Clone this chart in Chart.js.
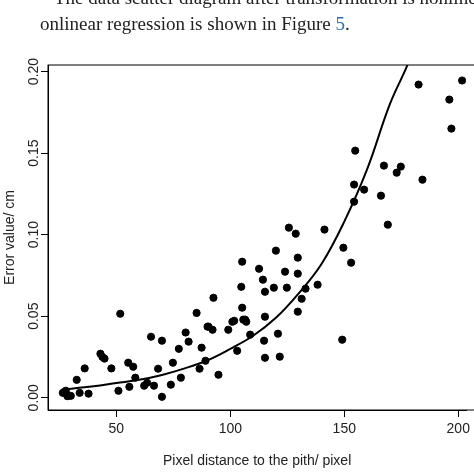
<!DOCTYPE html>
<html>
<head>
<meta charset="utf-8">
<script src="https://cdn.jsdelivr.net/npm/chart.js@4"></script>
<style>
  html, body { margin: 0; padding: 0; background: #fff; overflow: hidden; }
  #wrap { position: relative; width: 474px; height: 474px; }
  .caption { position: absolute; left: 0; white-space: nowrap; font-family: "Liberation Serif", "DejaVu Serif", serif; font-size: 19px; color: #222; }
</style>
</head>
<body>
<div id="wrap">
  <canvas id="chart" width="474" height="474"></canvas>
  <div class="caption" style="top:-13px; left:54px;">The data scatter diagram after transformation is nonlinear</div>
  <div class="caption" style="top:13px; left:40px;">onlinear regression is shown in Figure <span style="color:#2a6fb5">5</span>.</div>
</div>
<script>
// Observed points (pixel distance, error value)
const pointX = [26.5, 27.8, 28.5, 30, 32.6, 33.9, 36.1, 37.8, 43, 43.9, 44.8, 47.8, 50.9, 51.7, 55.2, 55.7, 57.4, 58.3,
  62.2, 63.5, 65.2, 66.5, 68.3, 70, 70, 73.9, 74.8, 77.4, 78.3, 80.4, 81.7, 85.2, 86.5, 87.4, 89.1, 90, 90.4, 92.2,
  92.6, 94.8, 99.1, 100.9, 101.7, 103, 104.8, 105.2, 105.2, 105.7, 106.5, 107, 108.7, 112.6, 114.3, 114.8, 115.2,
  115.2, 115.2, 119.1, 120, 120.9, 121.7, 124, 124.8, 125.7, 128.7, 129.6, 129.6, 129.6, 131.3, 133, 138.3, 141.3,
  149.1, 149.6, 153, 154.3, 154.8, 154.3, 158.7, 166.1, 167.4, 169.1, 173, 174.8, 182.6, 184.3, 196.1, 197, 201.7];
const pointY = [0.003, 0.0043, 0.001, 0.0012, 0.011, 0.003, 0.018, 0.0025, 0.027, 0.025, 0.024, 0.018, 0.0043, 0.0515,
  0.0215, 0.0067, 0.019, 0.0123, 0.0074, 0.0092, 0.0374, 0.0074, 0.0178, 0.035, 0.0006, 0.008, 0.0215, 0.030, 0.0123,
  0.040, 0.0344, 0.052, 0.0178, 0.0307, 0.0227, 0.0436, 0.0436, 0.0417, 0.0613, 0.0141, 0.0417, 0.0466, 0.0472,
  0.0288, 0.068, 0.0834, 0.0552, 0.0479, 0.0479, 0.0466, 0.0387, 0.0791, 0.0724, 0.035, 0.065, 0.0497, 0.0245,
  0.0675, 0.0902, 0.0393, 0.0252, 0.0773, 0.0675, 0.1043, 0.1006, 0.0859, 0.0761, 0.0528, 0.0607, 0.0669, 0.0693,
  0.1031, 0.0356, 0.092, 0.0828, 0.1307, 0.1515, 0.1202, 0.1276, 0.1239, 0.1423, 0.1061, 0.138, 0.1417, 0.192,
  0.1337, 0.1828, 0.165, 0.1945];

// Fitted regression curve
const curveX = [26, 40, 50, 60, 70, 80, 90, 100, 110, 120, 130, 140, 150, 160, 170, 178, 182];
const curveY = [0.005, 0.007, 0.009, 0.011, 0.014, 0.018, 0.023, 0.030, 0.038, 0.049, 0.064, 0.082, 0.108, 0.140, 0.180, 0.205, 0.222];

const xTicks = [50, 100, 150, 200];
const yTicks = [0, 0.05, 0.10, 0.15, 0.20];

const points = pointX.map((x, i) => ({ x: x, y: pointY[i] }));
const curve = curveX.map((x, i) => ({ x: x, y: curveY[i] }));

// R-style frame and rotated y tick labels
const rStyle = {
    id: 'rStyle',
    afterDraw(chart) {
        const { ctx, chartArea: a, scales } = chart;
        ctx.save();
        ctx.strokeStyle = '#000';
        ctx.lineWidth = 1;
        ctx.strokeRect(a.left, a.top, a.right - a.left + 10, a.bottom - a.top);
        ctx.fillStyle = '#222';
        ctx.font = '14px "Liberation Sans", Arial, sans-serif';
        ctx.textAlign = 'center';
        ctx.textBaseline = 'middle';
        yTicks.forEach(v => {
            const y = scales.y.getPixelForValue(v);
            ctx.save();
            ctx.translate(34, y);
            ctx.rotate(-Math.PI / 2);
            ctx.fillText(v.toFixed(2), 0, 0);
            ctx.restore();
        });
        ctx.save();
        ctx.translate(10, (a.top + a.bottom) / 2);
        ctx.rotate(-Math.PI / 2);
        ctx.fillText('Error value/ cm', 0, 0);
        ctx.restore();
        ctx.restore();
    }
};

new Chart(document.getElementById('chart'), {
    type: 'scatter',
    data: {
        datasets: [{
            data: points,
            backgroundColor: '#000',
            borderColor: '#000',
            pointRadius: 3.6,
            pointHoverRadius: 3.6
        }, {
            type: 'line',
            data: curve,
            borderColor: '#000',
            borderWidth: 2,
            pointRadius: 0,
            tension: 0.4,
            fill: false
        }]
    },
    options: {
        responsive: false,
        animation: false,
        layout: { padding: { top: 65, right: 0, left: 0, bottom: 0 } },
        plugins: { legend: { display: false }, tooltip: { enabled: false } },
        scales: {
            x: {
                type: 'linear',
                min: 20,
                max: 203.5,
                afterBuildTicks: s => { s.ticks = xTicks.map(v => ({ value: v })); },
                afterFit: s => { s.height = 64; },
                grid: { drawOnChartArea: false, tickLength: 7, color: '#000' },
                border: { color: '#000' },
                ticks: { color: '#222', font: { size: 14, family: '"Liberation Sans", Arial, sans-serif' }, padding: 4 },
                title: { display: true, text: 'Pixel distance to the pith/ pixel', color: '#222', font: { size: 14, family: '"Liberation Sans", Arial, sans-serif' }, padding: { top: 4 } }
            },
            y: {
                type: 'linear',
                min: -0.0075,
                max: 0.204,
                afterBuildTicks: s => { s.ticks = yTicks.map(v => ({ value: v })); },
                afterFit: s => { s.width = 48; },
                grid: { drawOnChartArea: false, tickLength: 7, color: '#000' },
                border: { color: '#000' },
                ticks: { color: 'rgba(0,0,0,0)' }
            }
        }
    },
    plugins: [rStyle]
});
</script>
</body>
</html>
